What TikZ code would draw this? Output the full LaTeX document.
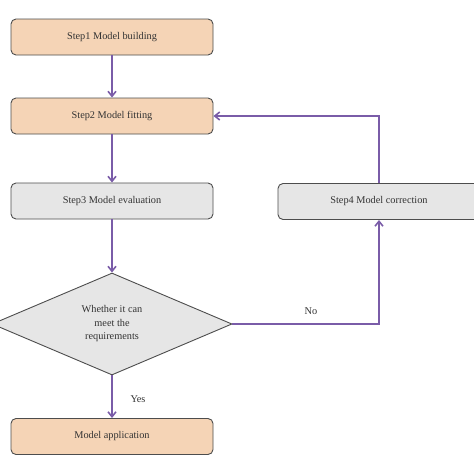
\documentclass[tikz,border=0pt]{standalone}
\usepackage{fontspec}
\setmainfont{Liberation Serif}
\usetikzlibrary{shapes.geometric,arrows.meta}
\definecolor{peach}{HTML}{F5D4B6}
\definecolor{lgray}{HTML}{E6E6E6}
\definecolor{edgegray}{HTML}{4D4D4D}
\definecolor{purp}{HTML}{7A5CA8}
\definecolor{txt}{HTML}{333333}
\tikzset{
  boxbase/.style={draw=edgegray, line width=0.9pt, rounded corners=5pt, minimum width=202pt, minimum height=36pt, inner sep=2pt, font=\fontsize{10.3}{12}\selectfont, text=txt},
  peachbox/.style={boxbase, fill=peach},
  graybox/.style={boxbase, fill=lgray},
  decision/.style={diamond, draw=edgegray, line width=0.9pt, fill=lgray, minimum width=240pt, minimum height=102pt, inner sep=0pt, aspect=2.35, font=\fontsize{10.3}{13.5}\selectfont, text=txt, align=center},
  flow/.style={draw=purp, line width=1.8pt, -{Straight Barb[length=5pt,width=8pt,line width=1.6pt]}},
  lbl/.style={font=\fontsize{10.3}{12}\selectfont, text=txt}
}
\begin{document}
\begin{tikzpicture}[x=1pt,y=-1pt]
\useasboundingbox (0,0) rectangle (474,474);
\fill[white] (0,0) rectangle (474,474);
\node[peachbox] (b1) at (112,37) {Step1 Model building};
\node[peachbox] (b2) at (112,116) {Step2 Model fitting};
\node[graybox] (b3) at (112,201) {Step3 Model evaluation};
\node[graybox] (b4) at (379,201.5) {Step4 Model correction};
\node[decision] (d) at (112,324) {Whether it can\\meet the\\requirements};
\node[peachbox] (b5) at (112,436.5) {Model application};
\coordinate (c1) at (b4 |- d.east);
\coordinate (c2) at (b4.north |- b2.east);
\draw[flow] (b1) -- (b2);
\draw[flow] (b2) -- (b3);
\draw[flow] (b3) -- (d.north);
\draw[flow] (d.south) -- (b5);
\draw[flow] (d.east) -- (c1) -- (b4.south);
\draw[flow] (b4.north) -- (c2) -- (b2.east);
\node[lbl] (yes) at (138,399) {Yes};
\node[lbl] (no) at (311,311) {No};
\end{tikzpicture}
\end{document}
